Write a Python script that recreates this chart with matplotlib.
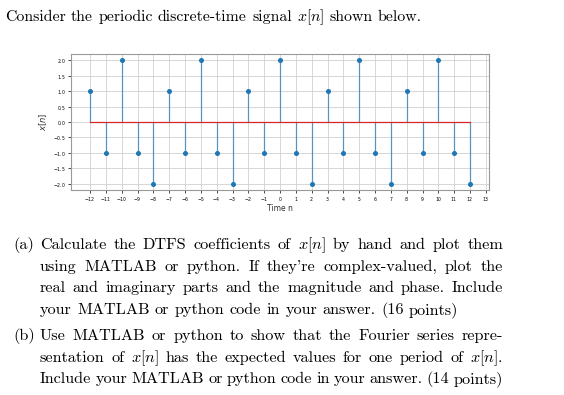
import matplotlib
matplotlib.use("Agg")
import matplotlib.pyplot as plt

plt.rcParams['mathtext.fontset'] = 'cm'
plt.rcParams['axes.formatter.use_mathtext'] = True

# one period repeats: 2, -1, -2, 1, -1
n = list(range(-12, 13))
x = [1, -1, 2, -1, -2, 1, -1, 2, -1, -2, 1, -1, 2,
     -1, -2, 1, -1, 2, -1, -2, 1, -1, 2, -1, -2]
xticks = list(range(-12, 14))
yticks = [-2.0, -1.5, -1.0, -0.5, 0.0, 0.5, 1.0, 1.5, 2.0]

intro = r"Consider the periodic discrete-time signal $x[n]$ shown below."
part_a = [r"Calculate the DTFS coefficients of $x[n]$ by hand and plot them",
          r"using MATLAB or python.  If they're complex-valued, plot the",
          r"real and imaginary parts and the magnitude and phase.  Include",
          r"your MATLAB or python code in your answer. (16 points)"]
part_b = [r"Use MATLAB or python to show that the Fourier series repre-",
          r"sentation of $x[n]$ has the expected values for one period of $x[n]$.",
          r"Include your MATLAB or python code in your answer. (14 points)"]

W, H = 564, 395
fig = plt.figure(figsize=(W / 100, H / 100), dpi=100)
renderer = fig.canvas.get_renderer()

# plot area
ax = fig.add_axes([71 / W, 1 - 190 / H, (489 - 71) / W, (190 - 54) / H])
markers, stems, base = ax.stem(n, x, linefmt='C0-', markerfmt='C0o', basefmt='C3-')
markers.set_markersize(2.6)
stems.set_linewidth(0.9)
stems.set_alpha(0.7)
base.set_linewidth(0.9)
ax.set_xticks(xticks)
ax.set_yticks(yticks)
ax.set_xlim(-13.2, 13.2)
ax.set_ylim(-2.2, 2.2)
ax.grid(True, color='#d0d0d0', linewidth=0.6)
ax.tick_params(labelsize=3.3, length=2, width=0.5, pad=1.5)
for s in ax.spines.values():
    s.set_color('#999999')
    s.set_linewidth(0.8)
ax.set_xlabel("Time n", fontsize=5.5, labelpad=1, color='#333333')
ax.set_ylabel(r"$x[n]$", fontsize=6, labelpad=3, color='#333333',
              math_fontfamily='dejavusans')

serif = 'cmr10'


def justified(words_line, x0, x1, y, fs, justify=True):
    words = words_line.split()
    texts = [fig.text(0, y / H, w, fontsize=fs, family=serif, va='baseline') for w in words]
    widths = [t.get_window_extent(renderer).width for t in texts]
    if justify and len(words) > 1:
        gap = (x1 - x0 - sum(widths)) / (len(words) - 1)
    else:
        gap = fs * 100 / 72 * 0.33
    pos = x0
    for t, w in zip(texts, widths):
        t.set_x(pos / W)
        pos += w + gap


justified(intro, 5, 423, H - 21, 11.4, justify=False)

fs = 11.7
y0 = H - 249
step = 21.7
for i, line in enumerate(part_a):
    if i == 0:
        fig.text(13 / W, y0 / H, "(a)", fontsize=fs, family=serif, va='baseline')
    justified(line, 40, 503, y0 - i * step, fs, justify=(i < 3))

y1 = H - 340
for i, line in enumerate(part_b):
    if i == 0:
        fig.text(13 / W, y1 / H, "(b)", fontsize=fs, family=serif, va='baseline')
    justified(line, 40, 503, y1 - i * step, fs, justify=True)

fig.savefig("out.png", dpi=100)
